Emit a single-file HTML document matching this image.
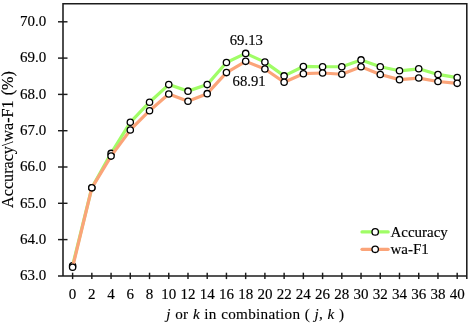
<!DOCTYPE html>
<html><head><meta charset="utf-8"><title>chart</title>
<style>html,body{margin:0;padding:0;background:#fff;width:471px;height:325px;overflow:hidden}</style>
</head><body>
<svg width="471" height="325" viewBox="0 0 471 325" style="display:block;position:absolute;left:0;top:0" font-family="'Liberation Serif', 'Times New Roman', serif" font-size="15" fill="#000" stroke="#000" stroke-width="0.15">
<rect x="0" y="0" width="471" height="325" fill="#fff" stroke="none"/>
<polyline points="72.61,265.74 91.84,187.69 111.07,153.39 130.30,122.35 149.53,102.20 168.76,84.60 187.99,91.13 207.21,84.60 226.44,62.46 245.67,53.38 264.90,62.09 284.13,75.89 303.36,66.45 322.59,66.74 341.81,66.74 361.04,59.91 380.27,66.74 399.50,70.80 418.73,68.81 437.96,74.44 457.19,77.59" fill="none" stroke="#a0fd66" stroke-width="3.2" stroke-linejoin="round" stroke-linecap="round"/>
<circle cx="72.61" cy="265.74" r="3.15" fill="#fff" stroke="#000" stroke-width="1.3"/>
<circle cx="91.84" cy="187.69" r="3.15" fill="#fff" stroke="#000" stroke-width="1.3"/>
<circle cx="111.07" cy="153.39" r="3.15" fill="#fff" stroke="#000" stroke-width="1.3"/>
<circle cx="130.30" cy="122.35" r="3.15" fill="#fff" stroke="#000" stroke-width="1.3"/>
<circle cx="149.53" cy="102.20" r="3.15" fill="#fff" stroke="#000" stroke-width="1.3"/>
<circle cx="168.76" cy="84.60" r="3.15" fill="#fff" stroke="#000" stroke-width="1.3"/>
<circle cx="187.99" cy="91.13" r="3.15" fill="#fff" stroke="#000" stroke-width="1.3"/>
<circle cx="207.21" cy="84.60" r="3.15" fill="#fff" stroke="#000" stroke-width="1.3"/>
<circle cx="226.44" cy="62.46" r="3.15" fill="#fff" stroke="#000" stroke-width="1.3"/>
<circle cx="245.67" cy="53.38" r="3.15" fill="#fff" stroke="#000" stroke-width="1.3"/>
<circle cx="264.90" cy="62.09" r="3.15" fill="#fff" stroke="#000" stroke-width="1.3"/>
<circle cx="284.13" cy="75.89" r="3.15" fill="#fff" stroke="#000" stroke-width="1.3"/>
<circle cx="303.36" cy="66.45" r="3.15" fill="#fff" stroke="#000" stroke-width="1.3"/>
<circle cx="322.59" cy="66.74" r="3.15" fill="#fff" stroke="#000" stroke-width="1.3"/>
<circle cx="341.81" cy="66.74" r="3.15" fill="#fff" stroke="#000" stroke-width="1.3"/>
<circle cx="361.04" cy="59.91" r="3.15" fill="#fff" stroke="#000" stroke-width="1.3"/>
<circle cx="380.27" cy="66.74" r="3.15" fill="#fff" stroke="#000" stroke-width="1.3"/>
<circle cx="399.50" cy="70.80" r="3.15" fill="#fff" stroke="#000" stroke-width="1.3"/>
<circle cx="418.73" cy="68.81" r="3.15" fill="#fff" stroke="#000" stroke-width="1.3"/>
<circle cx="437.96" cy="74.44" r="3.15" fill="#fff" stroke="#000" stroke-width="1.3"/>
<circle cx="457.19" cy="77.59" r="3.15" fill="#fff" stroke="#000" stroke-width="1.3"/>
<polyline points="72.61,267.19 91.84,187.87 111.07,156.11 130.30,129.97 149.53,110.74 168.76,93.96 187.99,101.30 207.21,93.67 226.44,72.62 245.67,61.37 264.90,68.99 284.13,82.24 303.36,73.71 322.59,72.98 341.81,74.25 361.04,66.81 380.27,74.44 399.50,79.63 418.73,78.06 437.96,81.51 457.19,83.36" fill="none" stroke="#fba479" stroke-width="3.2" stroke-linejoin="round" stroke-linecap="round"/>
<circle cx="72.61" cy="267.19" r="3.15" fill="#fff" stroke="#000" stroke-width="1.3"/>
<circle cx="91.84" cy="187.87" r="3.15" fill="#fff" stroke="#000" stroke-width="1.3"/>
<circle cx="111.07" cy="156.11" r="3.15" fill="#fff" stroke="#000" stroke-width="1.3"/>
<circle cx="130.30" cy="129.97" r="3.15" fill="#fff" stroke="#000" stroke-width="1.3"/>
<circle cx="149.53" cy="110.74" r="3.15" fill="#fff" stroke="#000" stroke-width="1.3"/>
<circle cx="168.76" cy="93.96" r="3.15" fill="#fff" stroke="#000" stroke-width="1.3"/>
<circle cx="187.99" cy="101.30" r="3.15" fill="#fff" stroke="#000" stroke-width="1.3"/>
<circle cx="207.21" cy="93.67" r="3.15" fill="#fff" stroke="#000" stroke-width="1.3"/>
<circle cx="226.44" cy="72.62" r="3.15" fill="#fff" stroke="#000" stroke-width="1.3"/>
<circle cx="245.67" cy="61.37" r="3.15" fill="#fff" stroke="#000" stroke-width="1.3"/>
<circle cx="264.90" cy="68.99" r="3.15" fill="#fff" stroke="#000" stroke-width="1.3"/>
<circle cx="284.13" cy="82.24" r="3.15" fill="#fff" stroke="#000" stroke-width="1.3"/>
<circle cx="303.36" cy="73.71" r="3.15" fill="#fff" stroke="#000" stroke-width="1.3"/>
<circle cx="322.59" cy="72.98" r="3.15" fill="#fff" stroke="#000" stroke-width="1.3"/>
<circle cx="341.81" cy="74.25" r="3.15" fill="#fff" stroke="#000" stroke-width="1.3"/>
<circle cx="361.04" cy="66.81" r="3.15" fill="#fff" stroke="#000" stroke-width="1.3"/>
<circle cx="380.27" cy="74.44" r="3.15" fill="#fff" stroke="#000" stroke-width="1.3"/>
<circle cx="399.50" cy="79.63" r="3.15" fill="#fff" stroke="#000" stroke-width="1.3"/>
<circle cx="418.73" cy="78.06" r="3.15" fill="#fff" stroke="#000" stroke-width="1.3"/>
<circle cx="437.96" cy="81.51" r="3.15" fill="#fff" stroke="#000" stroke-width="1.3"/>
<circle cx="457.19" cy="83.36" r="3.15" fill="#fff" stroke="#000" stroke-width="1.3"/>
<path d="M58.0,275.9 H466.8 M466.8,279.09999999999997 V3.65 H63.0 V275.9" fill="none" stroke="#1c1c1c" stroke-width="1.55" stroke-linejoin="miter"/>
<line x1="58.0" x2="67.5" y1="239.60" y2="239.60" stroke="#1c1c1c" stroke-width="1.45"/>
<line x1="58.0" x2="67.5" y1="203.30" y2="203.30" stroke="#1c1c1c" stroke-width="1.45"/>
<line x1="58.0" x2="67.5" y1="167.00" y2="167.00" stroke="#1c1c1c" stroke-width="1.45"/>
<line x1="58.0" x2="67.5" y1="130.70" y2="130.70" stroke="#1c1c1c" stroke-width="1.45"/>
<line x1="58.0" x2="67.5" y1="94.40" y2="94.40" stroke="#1c1c1c" stroke-width="1.45"/>
<line x1="58.0" x2="67.5" y1="58.10" y2="58.10" stroke="#1c1c1c" stroke-width="1.45"/>
<line x1="58.0" x2="67.5" y1="21.80" y2="21.80" stroke="#1c1c1c" stroke-width="1.45"/>
<text x="46.3" y="280.25" text-anchor="end">63.0</text>
<text x="46.3" y="243.95" text-anchor="end">64.0</text>
<text x="46.3" y="207.65" text-anchor="end">65.0</text>
<text x="46.3" y="171.35" text-anchor="end">66.0</text>
<text x="46.3" y="135.05" text-anchor="end">67.0</text>
<text x="46.3" y="98.75" text-anchor="end">68.0</text>
<text x="46.3" y="62.45" text-anchor="end">69.0</text>
<text x="46.3" y="26.15" text-anchor="end">70.0</text>
<line x1="72.61" x2="72.61" y1="272.7" y2="279.09999999999997" stroke="#1c1c1c" stroke-width="1.45"/>
<text x="72.61" y="298.6" text-anchor="middle">0</text>
<line x1="91.84" x2="91.84" y1="272.7" y2="279.09999999999997" stroke="#1c1c1c" stroke-width="1.45"/>
<text x="91.84" y="298.6" text-anchor="middle">2</text>
<line x1="111.07" x2="111.07" y1="272.7" y2="279.09999999999997" stroke="#1c1c1c" stroke-width="1.45"/>
<text x="111.07" y="298.6" text-anchor="middle">4</text>
<line x1="130.30" x2="130.30" y1="272.7" y2="279.09999999999997" stroke="#1c1c1c" stroke-width="1.45"/>
<text x="130.30" y="298.6" text-anchor="middle">6</text>
<line x1="149.53" x2="149.53" y1="272.7" y2="279.09999999999997" stroke="#1c1c1c" stroke-width="1.45"/>
<text x="149.53" y="298.6" text-anchor="middle">8</text>
<line x1="168.76" x2="168.76" y1="272.7" y2="279.09999999999997" stroke="#1c1c1c" stroke-width="1.45"/>
<text x="168.76" y="298.6" text-anchor="middle">10</text>
<line x1="187.99" x2="187.99" y1="272.7" y2="279.09999999999997" stroke="#1c1c1c" stroke-width="1.45"/>
<text x="187.99" y="298.6" text-anchor="middle">12</text>
<line x1="207.21" x2="207.21" y1="272.7" y2="279.09999999999997" stroke="#1c1c1c" stroke-width="1.45"/>
<text x="207.21" y="298.6" text-anchor="middle">14</text>
<line x1="226.44" x2="226.44" y1="272.7" y2="279.09999999999997" stroke="#1c1c1c" stroke-width="1.45"/>
<text x="226.44" y="298.6" text-anchor="middle">16</text>
<line x1="245.67" x2="245.67" y1="272.7" y2="279.09999999999997" stroke="#1c1c1c" stroke-width="1.45"/>
<text x="245.67" y="298.6" text-anchor="middle">18</text>
<line x1="264.90" x2="264.90" y1="272.7" y2="279.09999999999997" stroke="#1c1c1c" stroke-width="1.45"/>
<text x="264.90" y="298.6" text-anchor="middle">20</text>
<line x1="284.13" x2="284.13" y1="272.7" y2="279.09999999999997" stroke="#1c1c1c" stroke-width="1.45"/>
<text x="284.13" y="298.6" text-anchor="middle">22</text>
<line x1="303.36" x2="303.36" y1="272.7" y2="279.09999999999997" stroke="#1c1c1c" stroke-width="1.45"/>
<text x="303.36" y="298.6" text-anchor="middle">24</text>
<line x1="322.59" x2="322.59" y1="272.7" y2="279.09999999999997" stroke="#1c1c1c" stroke-width="1.45"/>
<text x="322.59" y="298.6" text-anchor="middle">26</text>
<line x1="341.81" x2="341.81" y1="272.7" y2="279.09999999999997" stroke="#1c1c1c" stroke-width="1.45"/>
<text x="341.81" y="298.6" text-anchor="middle">28</text>
<line x1="361.04" x2="361.04" y1="272.7" y2="279.09999999999997" stroke="#1c1c1c" stroke-width="1.45"/>
<text x="361.04" y="298.6" text-anchor="middle">30</text>
<line x1="380.27" x2="380.27" y1="272.7" y2="279.09999999999997" stroke="#1c1c1c" stroke-width="1.45"/>
<text x="380.27" y="298.6" text-anchor="middle">32</text>
<line x1="399.50" x2="399.50" y1="272.7" y2="279.09999999999997" stroke="#1c1c1c" stroke-width="1.45"/>
<text x="399.50" y="298.6" text-anchor="middle">34</text>
<line x1="418.73" x2="418.73" y1="272.7" y2="279.09999999999997" stroke="#1c1c1c" stroke-width="1.45"/>
<text x="418.73" y="298.6" text-anchor="middle">36</text>
<line x1="437.96" x2="437.96" y1="272.7" y2="279.09999999999997" stroke="#1c1c1c" stroke-width="1.45"/>
<text x="437.96" y="298.6" text-anchor="middle">38</text>
<line x1="457.19" x2="457.19" y1="272.7" y2="279.09999999999997" stroke="#1c1c1c" stroke-width="1.45"/>
<text x="457.19" y="298.6" text-anchor="middle">40</text>
<text x="246.3" y="44.6" font-size="14.7" stroke-width="0.15" text-anchor="middle">69.13</text>
<text x="249.1" y="85.6" font-size="14.7" stroke-width="0.15" text-anchor="middle">68.91</text>
<line x1="362" x2="388.2" y1="231.9" y2="231.9" stroke="#a0fd66" stroke-width="3.2" stroke-linecap="round"/>
<circle cx="375.2" cy="231.9" r="3.2" fill="#fff" stroke="#000" stroke-width="1.3"/>
<text x="390.4" y="237">Accuracy</text>
<line x1="362" x2="388.2" y1="249.3" y2="249.3" stroke="#fba479" stroke-width="3.2" stroke-linecap="round"/>
<circle cx="375.2" cy="249.3" r="3.2" fill="#fff" stroke="#000" stroke-width="1.3"/>
<text x="390.5" y="254">wa-F1</text>
<text x="166.3" y="319.4" font-size="15.2" letter-spacing="0.3" word-spacing="0.3" stroke-width="0.12" xml:space="preserve"><tspan font-style="italic">j</tspan> or <tspan font-style="italic">k</tspan> in combination ( <tspan font-style="italic">j</tspan>, <tspan font-style="italic">k</tspan> )</text>
<text transform="translate(12.8,139.5) rotate(-90)" font-size="16.15" letter-spacing="0" word-spacing="1" stroke-width="0.15" text-anchor="middle">Accuracy\wa-F1 (%)</text>
</svg>
</body></html>
